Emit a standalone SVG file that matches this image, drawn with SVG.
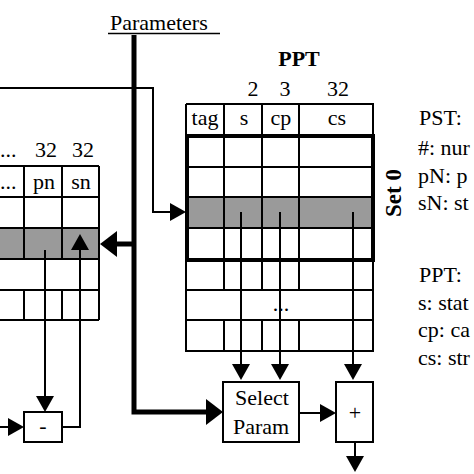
<svg xmlns="http://www.w3.org/2000/svg" width="474" height="474" viewBox="0 0 474 474">
<style>
text{font-family:"Liberation Serif","Times New Roman",serif;fill:#000;font-size:22px}
.b{font-weight:bold}
.m{text-anchor:middle}
.ln{fill:none;stroke:#000;stroke-width:2}
.thick{fill:none;stroke:#000;stroke-width:4}
.bus{fill:none;stroke:#000;stroke-width:5}
.box{fill:#fff;stroke:#000;stroke-width:2}
.g{fill:#9a9a9a}
</style>
<defs>
<marker id="a" viewBox="0 0 16 18" refX="14" refY="9" markerWidth="16" markerHeight="18" markerUnits="userSpaceOnUse" orient="auto"><path d="M0,0 L16,9 L0,18 z" fill="#000"/></marker>
<marker id="A" viewBox="0 0 17 26" refX="7" refY="13" markerWidth="17" markerHeight="26" markerUnits="userSpaceOnUse" orient="auto"><path d="M0,0 L17,13 L0,26 z" fill="#000"/></marker>
</defs>

<g id="parameters-label">
<text x="110" y="30">Parameters</text>
<line x1="108" y1="33.5" x2="220" y2="33.5" stroke="#000" stroke-width="1.5"/>
</g>

<g id="pst-table">
<rect class="g" x="-5" y="228" width="104" height="31"/>
<path class="ln" d="M-5 166H99M-5 197H99M-5 228H99M-5 259H99M-5 290H99M-5 320H99M99 166V320M24 166V259M62 166V259M24 290V320M62 290V320"/>
<text x="0" y="157">...</text>
<text class="m" x="46" y="157">32</text>
<text class="m" x="83" y="157">32</text>
<text x="0" y="189">...</text>
<text class="m" x="44" y="189">pn</text>
<text class="m" x="81" y="189">sn</text>
</g>

<g id="ppt-table">
<text class="m b" x="299" y="66">PPT</text>
<text class="m" x="253" y="96">2</text>
<text class="m" x="285" y="96">3</text>
<text class="m" x="338" y="96">32</text>
<rect class="g" x="187" y="197" width="186" height="31"/>
<path class="ln" d="M186 104H373V136M186 104V136M224 104V260M262 104V260M299 104V260M187 167H373M187 197H373M187 228H373"/>
<path class="ln" d="M186 260V351H373V260M186 290H373M186 320H373M224 260V290M262 260V290M299 260V290M224 320V351M262 320V351M299 320V351"/>
<rect class="thick" x="187" y="136" width="186" height="124"/>
<text class="m" x="205" y="125">tag</text>
<text class="m" x="244" y="125">s</text>
<text class="m" x="281" y="125">cp</text>
<text class="m" x="337" y="125">cs</text>
<text class="m" x="281" y="311">...</text>
<text class="b m" x="0" y="0" transform="translate(401 193) rotate(-90)" style="font-size:23px">Set 0</text>
</g>

<g id="minus-box">
<rect class="box" x="24" y="412" width="38" height="30"/>
<text class="m" x="43" y="433">-</text>
</g>

<g id="select-param">
<rect class="box" x="223" y="382" width="76" height="60"/>
<text class="m" x="262" y="405">Select</text>
<text class="m" x="261" y="434">Param</text>
</g>

<g id="plus-box">
<rect class="box" x="336" y="382" width="37" height="60"/>
<text class="m" x="355" y="420">+</text>
</g>

<g id="legend">
<text x="419" y="125">PST:</text>
<text x="418" y="155">#: nur</text>
<text x="418" y="183">pN: p</text>
<text x="418" y="210">sN: st</text>
<text x="419" y="282">PPT:</text>
<text x="418" y="310">s: stat</text>
<text x="418" y="337">cp: ca</text>
<text x="418" y="365">cs: str</text>
</g>

<g id="connectors">
<path class="ln" d="M-5 88H153V212H184" marker-end="url(#a)"/>
<path class="bus" d="M134 35V412H213" marker-end="url(#A)"/>
<path class="bus" d="M134 244H110" marker-end="url(#A)"/>
<path class="ln" d="M241 212V378" marker-end="url(#a)"/>
<path class="ln" d="M280 212V378" marker-end="url(#a)"/>
<path class="ln" d="M353 212V378" marker-end="url(#a)"/>
<path class="ln" d="M299 413H334" marker-end="url(#a)"/>
<path class="ln" d="M355 442V470" marker-end="url(#a)"/>
<path class="ln" d="M45 250V410" marker-end="url(#a)"/>
<path class="ln" d="M62 427H80V236" marker-end="url(#a)"/>
<path class="ln" d="M-5 427H22" marker-end="url(#a)"/>
</g>
</svg>
